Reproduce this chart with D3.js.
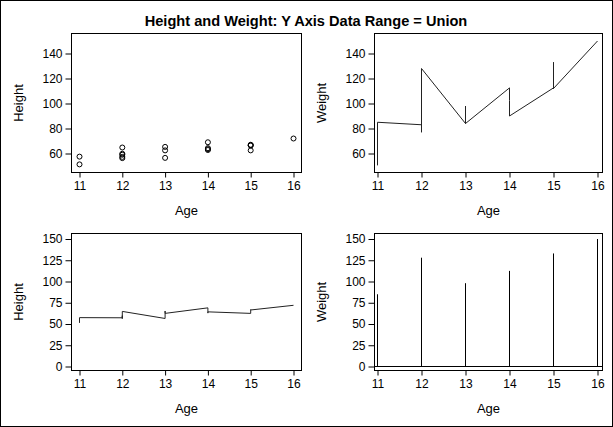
<!DOCTYPE html>
<html>
<head>
<meta charset="utf-8">
<script src="https://cdn.jsdelivr.net/npm/d3@7"></script>
<style>
  body { margin: 0; background: #fff; }
  text { font-family: Arial, "Liberation Sans", sans-serif; fill: #000; }
</style>
</head>
<body>
<script>
// sashelp.class, sorted by age
const ages    = [11, 11, 12, 12, 12, 12, 12, 13, 13, 13, 14, 14, 14, 14, 15, 15, 15, 15, 16];
const heights = [51.3, 57.5, 57.3, 59.8, 59.0, 56.3, 64.8, 56.5, 65.3, 62.5, 69.0, 62.8, 63.5, 64.3, 62.5, 66.5, 67.0, 66.5, 72.0];
const weights = [50.5, 85.0, 83.0, 84.5, 99.5, 77.0, 128.0, 84.0, 98.0, 84.0, 112.5, 102.5, 102.5, 90.0, 112.5, 112.0, 133.0, 112.0, 150.0];

const xTicks = [11, 12, 13, 14, 15, 16];
const topTicks = [60, 80, 100, 120, 140];
const bottomTicks = [0, 25, 50, 75, 100, 125, 150];

const title = "Height and Weight: Y Axis Data Range = Union";

const W = 613, H = 427;

const svg = d3.select("body").append("svg")
    .attr("width", W)
    .attr("height", H);

// outer border
svg.append("rect")
    .attr("x", 0.5).attr("y", 0.5)
    .attr("width", W - 1).attr("height", H - 1)
    .attr("fill", "none").attr("stroke", "#000");

svg.append("text")
    .attr("x", 306).attr("y", 26)
    .attr("text-anchor", "middle")
    .style("font-size", "14.6px")
    .style("font-weight", "bold")
    .text(title);

const data = ages.map((a, i) => ({ age: a, height: heights[i], weight: weights[i] }));

// panel frames and scales
function panel(opt) {
    const g = svg.append("g");
    const x = d3.scaleLinear().domain([11, 16]).range(opt.xr);
    const y = d3.scaleLinear().domain(opt.yd).range(opt.yr);

    // x axis
    const xa = g.append("g")
        .attr("transform", "translate(0," + opt.fb + ")")
        .call(d3.axisBottom(x).tickValues(xTicks).tickSize(5).tickPadding(4).tickFormat(d3.format("d")));
    xa.select(".domain").remove();

    // y axis
    const ya = g.append("g")
        .attr("transform", "translate(" + opt.fl + ",0)")
        .call(d3.axisLeft(y).tickValues(opt.ticks).tickSize(6).tickPadding(3));
    ya.select(".domain").remove();

    g.selectAll(".tick text").style("font-size", "12px").attr("fill", "#000");
    g.selectAll(".tick line").attr("stroke", "#000");

    g.append("rect")
        .attr("x", opt.fl).attr("y", opt.ft)
        .attr("width", opt.fr - opt.fl).attr("height", opt.fb - opt.ft)
        .attr("fill", "none").attr("stroke", "#000");

    g.append("text")
        .attr("x", (opt.fl + opt.fr) / 2).attr("y", opt.fb + 42)
        .attr("text-anchor", "middle")
        .style("font-size", "13px")
        .text("Age");

    g.append("text")
        .attr("transform", "translate(" + opt.lx + "," + (opt.ft + opt.fb) / 2 + ") rotate(-90)")
        .attr("text-anchor", "middle")
        .style("font-size", "13px")
        .text(opt.label);

    const plot = g.append("g");
    return { plot, x, y };
}

const tl = panel({ xr: [79.5, 293.5], fl: 71.5, fr: 301.5, ft: 33.5, fb: 172.5,
    yd: [60, 140], yr: [153.5, 53.5], ticks: topTicks, label: "Height", lx: 23 });
const tr = panel({ xr: [377.5, 597.5], fl: 374.5, fr: 602.5, ft: 33.5, fb: 172.5,
    yd: [60, 140], yr: [153.5, 53.5], ticks: topTicks, label: "Weight", lx: 326 });
const bl = panel({ xr: [79.5, 293.5], fl: 71.5, fr: 301.5, ft: 233.5, fb: 370.5,
    yd: [0, 150], yr: [366.5, 239], ticks: bottomTicks, label: "Height", lx: 23 });
const br = panel({ xr: [377.5, 597.5], fl: 374.5, fr: 602.5, ft: 233.5, fb: 370.5,
    yd: [0, 150], yr: [366.5, 239], ticks: bottomTicks, label: "Weight", lx: 326 });

// top left: scatter of height
tl.plot.selectAll("circle")
    .data(data)
    .enter().append("circle")
    .attr("cx", d => tl.x(d.age))
    .attr("cy", d => tl.y(d.height))
    .attr("r", 2.5)
    .attr("fill", "none")
    .attr("stroke", "#000");

// top right: series line of weight
tr.plot.append("path")
    .datum(data)
    .attr("fill", "none")
    .attr("stroke", "#222")
    .attr("d", d3.line().x(d => tr.x(d.age)).y(d => tr.y(d.weight)));

// bottom left: series line of height
bl.plot.append("path")
    .datum(data)
    .attr("fill", "none")
    .attr("stroke", "#222")
    .attr("d", d3.line().x(d => bl.x(d.age)).y(d => bl.y(d.height)));

// bottom right: needles of weight
br.plot.append("line")
    .attr("x1", 374.5).attr("x2", 602.5)
    .attr("y1", br.y(0)).attr("y2", br.y(0))
    .attr("stroke", "#000");

br.plot.selectAll(".needle")
    .data(data)
    .enter().append("line")
    .attr("class", "needle")
    .attr("x1", d => br.x(d.age)).attr("x2", d => br.x(d.age))
    .attr("y1", br.y(0))
    .attr("y2", d => br.y(d.weight))
    .attr("stroke", "#000");
</script>
</body>
</html>
